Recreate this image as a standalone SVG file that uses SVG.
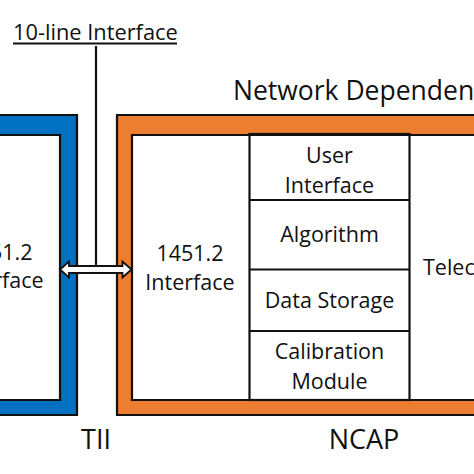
<svg xmlns="http://www.w3.org/2000/svg" width="474" height="474" viewBox="0 0 474 474">
<style>
text{font-family:"Open Sans",Lato,"Liberation Sans",sans-serif;fill:#111}
.m{font-size:21.5px;text-anchor:middle}
.big{font-size:27px;text-anchor:middle}
.ln{fill:none;stroke:#111;stroke-width:2.2}
</style>
<rect width="474" height="474" fill="#fff"/>
<g id="tim">
<path d="M-20 115H77V415H-20ZM-20 135V400H60V135Z" fill="#0070C0" fill-rule="evenodd" stroke="#111" stroke-width="2.2"/>
<text class="m" x="-1" y="260">1451.2</text>
<text class="m" x="-1" y="288">Interface</text>
</g>
<g id="ncap">
<path d="M117 115H490V415H117ZM132 135V400H490V135Z" fill="#ED7D31" fill-rule="evenodd" stroke="#111" stroke-width="2.2"/>
<text x="233" y="100" font-size="26.5">Network Dependent</text>
</g>
<g id="ncap-interface">
<text class="m" x="190" y="261">1451.2</text>
<text class="m" x="190" y="290">Interface</text>
</g>
<g id="modules">
<rect class="ln" x="249.5" y="134" width="160" height="266"/>
<line class="ln" x1="249.5" y1="200" x2="409.5" y2="200"/>
<line class="ln" x1="249.5" y1="269.5" x2="409.5" y2="269.5"/>
<line class="ln" x1="249.5" y1="331" x2="409.5" y2="331"/>
</g>
<g id="user-interface"><text class="m" x="329.5" y="163">User</text><text class="m" x="329.5" y="192.5">Interface</text></g>
<g id="algorithm"><text class="m" x="329.5" y="241.5">Algorithm</text></g>
<g id="data-storage"><text class="m" x="329.5" y="308">Data Storage</text></g>
<g id="calibration"><text class="m" x="329.5" y="358.5">Calibration</text><text class="m" x="329.5" y="388.5">Module</text></g>
<g id="telecom"><text x="423" y="275" font-size="21.5">Telecommunication</text></g>
<g id="ten-line">
<text x="13" y="40" font-size="21.8">10-line Interface</text>
<line class="ln" x1="13" y1="43.5" x2="177" y2="43.5"/>
</g>
<g id="connectors">
<line class="ln" x1="96" y1="46" x2="96" y2="266"/>
<path d="M60 269.5L69 261.5V266H122.5V261.5L131.5 269.5L122.5 277.5V273H69V277.5Z" fill="#fff" stroke="#111" stroke-width="1.8" stroke-linejoin="miter"/>
</g>
<text class="big" x="96" y="449">TII</text>
<text class="big" x="364" y="449">NCAP</text>
</svg>
